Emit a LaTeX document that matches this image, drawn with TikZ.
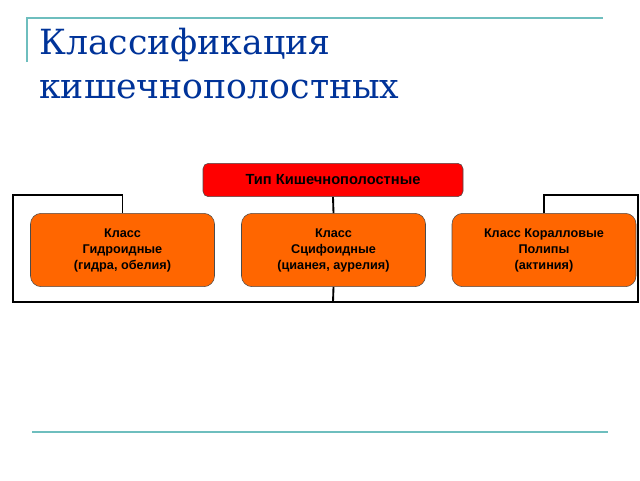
\documentclass[tikz,border=0pt]{standalone}
\usepackage{fontspec}
\setmainfont{DejaVu Serif}
\setsansfont{Liberation Sans}
\definecolor{rule}{RGB}{110,190,190}
\definecolor{titleblue}{RGB}{0,51,153}
\definecolor{classorange}{RGB}{255,102,0}
\tikzset{
  typebox/.style={draw=black!70, fill=red, rounded corners=4pt, minimum width=195pt, minimum height=25pt, font=\sffamily\bfseries\fontsize{11}{12}\selectfont},
  classbox/.style={draw=black!70, fill=classorange, rounded corners=8pt, minimum width=138pt, minimum height=55pt, align=center, font=\sffamily\bfseries\fontsize{9.5}{12}\selectfont},
  link/.style={draw, line width=1.4pt}
}
\begin{document}
\begin{tikzpicture}[x=0.75pt,y=-0.75pt]
  \useasboundingbox (0,0) rectangle (640,480);

  % Slide frame
  \draw[rule, line width=1.2pt] (27,62) -- (27,18) -- (603,18);
  \draw[rule, line width=1.2pt] (32,432) -- (608,432);

  % Title
  \node[anchor=north west, text=titleblue, align=left, font=\fontsize{26}{33}\selectfont, inner sep=0pt] (title) at (39,28) {Классификация\\кишечнополостных};

  % Boxes
  \node[typebox] (type) at (333,180) {Тип Кишечнополостные};
  \node[classbox] (hydro) at (122.5,250) {Класс\\Гидроидные\\(гидра, обелия)};
  \node[classbox] (scypho) at (333.5,250) {Класс\\Сцифоидные\\(цианея, аурелия)};
  \node[classbox] (coral) at (544,250) {Класс Коралловые\\Полипы\\(актиния)};

  % Connectors
  \coordinate (leftcorner) at (13,195);
  \coordinate (rightcorner) at (638,195);
  \coordinate (joint) at (333,302);
  \draw[link] (type.south) -- (scypho.north);
  \draw[link] (scypho.south) -- (joint);
  \draw[link] (hydro.north) |- (leftcorner) |- (joint);
  \draw[link] (coral.north) |- (rightcorner) |- (joint);
\end{tikzpicture}
\end{document}
